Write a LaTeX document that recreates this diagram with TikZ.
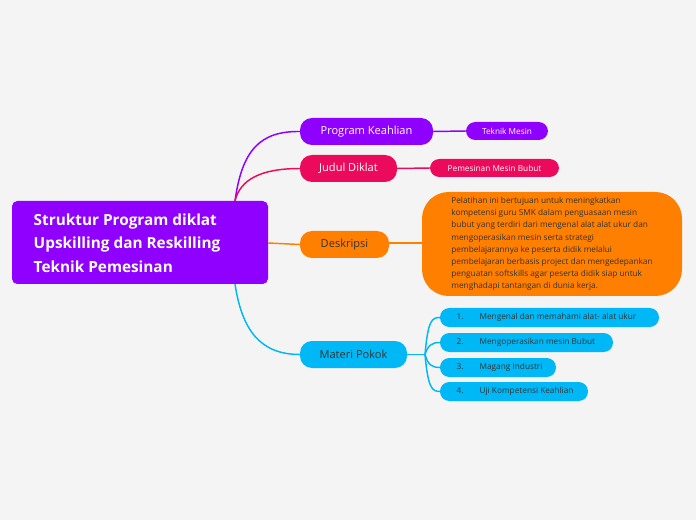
\documentclass[tikz,border=0pt]{standalone}
\usepackage{fontspec}
\setmainfont{Open Sans}
\definecolor{pur}{HTML}{8F00FF}
\definecolor{pnk}{HTML}{EC0A5C}
\definecolor{org}{HTML}{FF7F00}
\definecolor{cyn}{HTML}{00B8F5}
\definecolor{bg}{HTML}{F4F4F4}
\definecolor{dk}{HTML}{333333}
\tikzset{
 box/.style={rounded corners=#1, inner sep=0pt},
 lnk/.style={line width=1.1pt},
 small/.style={font=\fontsize{6.2}{7.4}\selectfont, text=dk, anchor=west},
}
\begin{document}
\begin{tikzpicture}[x=0.75pt,y=-0.75pt]
\fill[bg] (0,0) rectangle (696,520);
\useasboundingbox (0,0) rectangle (696,520);
% root
\fill[pur, rounded corners=4] (12,201) rectangle (268,284);
\node (root) at (140,242.5) [minimum width=192pt, minimum height=62pt] {};
\node[anchor=west, text=white, font=\fontsize{11.5}{17.5}\selectfont\bfseries, align=left] at (29,243) {Struktur Program diklat\\Upskilling dan Reskilling\\Teknik Pemesinan};
% level 1
\fill[pur, rounded corners=9] (300,118) rectangle (433,145);
\node (pk) at (366.5,131.5) [text=white, font=\fontsize{8.3}{10}\selectfont] {Program Keahlian};
\fill[pnk, rounded corners=9] (300,155) rectangle (397,182);
\node (jd) at (348.5,168.5) [text=white, font=\fontsize{8.3}{10}\selectfont] {Judul Diklat};
\fill[org, rounded corners=9] (300,231) rectangle (389,258);
\node (ds) at (344.5,244.5) [text=dk, font=\fontsize{8.3}{10}\selectfont] {Deskripsi};
\fill[cyn, rounded corners=9] (300,341) rectangle (407,368);
\node (mp) at (353.5,354.5) [text=dk, font=\fontsize{8.3}{10}\selectfont] {Materi Pokok};
% level 2
\fill[pur, rounded corners=7] (466,122) rectangle (548,140);
\node (tm) at (507,131) [text=white, font=\fontsize{6.2}{7.4}\selectfont] {Teknik Mesin};
\fill[pnk, rounded corners=7] (430,159) rectangle (559,177);
\node (pmb) at (494.5,168) [text=white, font=\fontsize{6.2}{7.4}\selectfont] {Pemesinan Mesin Bubut};
\fill[org, rounded corners=20] (422,192) rectangle (682,296);
\node (dt) at (552,244) [font=\fontsize{6.2}{9.1}\selectfont, text=dk, align=left] {Pelatihan ini bertujuan untuk meningkatkan\\kompetensi guru SMK dalam penguasaan mesin\\bubut yang terdiri dari mengenal alat alat ukur dan\\mengoperasikan mesin serta strategi\\pembelajarannya ke peserta didik melalui\\pembelajaran berbasis project dan mengedepankan\\penguatan softskills agar peserta didik siap untuk\\menghadapi tantangan di dunia kerja.};
\fill[cyn, rounded corners=7] (440,308) rectangle (659,327);
\node[small] (i1) at (452,317.5) {1.\hspace{12pt}Mengenal dan memahami alat- alat ukur};
\fill[cyn, rounded corners=7] (440,333) rectangle (613,352);
\node[small] (i2) at (452,342.5) {2.\hspace{12pt}Mengoperasikan mesin Bubut};
\fill[cyn, rounded corners=7] (440,358) rectangle (556,377);
\node[small] (i3) at (452,367.5) {3.\hspace{12pt}Magang Industri};
\fill[cyn, rounded corners=7] (440,382) rectangle (588,401);
\node[small] (i4) at (452,391.5) {4.\hspace{12pt}Uji Kompetensi Keahlian};
% connectors
\coordinate (rt) at (235,201);
\coordinate (rb) at (235,284);
\coordinate (rr) at (268,243);
\draw[lnk,pur] (rt) .. controls (242,150) and (260,131) .. (300,131.5);
\draw[lnk,pnk] (rt) .. controls (240,180) and (260,168.5) .. (300,168.5);
\draw[lnk,org] (rr) -- (300,244.5);
\draw[lnk,cyn] (rb) .. controls (242,330) and (260,354.5) .. (300,354.5);
\draw[lnk,pur] (433,131.5) .. controls (450,131.5) .. (466,131);
\draw[lnk,pnk] (397,168.5) -- (430,168);
\draw[lnk,org] (389,243) -- (422,243);
\coordinate (hub) at (425,354.5);
\draw[lnk,cyn] (407,354.5) -- (hub);
\draw[lnk,cyn] (hub) .. controls (428,320) and (432,317.5) .. (440,317.5);
\draw[lnk,cyn] (hub) .. controls (428,345) and (432,342.5) .. (440,342.5);
\draw[lnk,cyn] (hub) .. controls (428,365) and (432,367.5) .. (440,367.5);
\draw[lnk,cyn] (hub) .. controls (428,388) and (432,391.5) .. (440,391.5);
\end{tikzpicture}
\end{document}
